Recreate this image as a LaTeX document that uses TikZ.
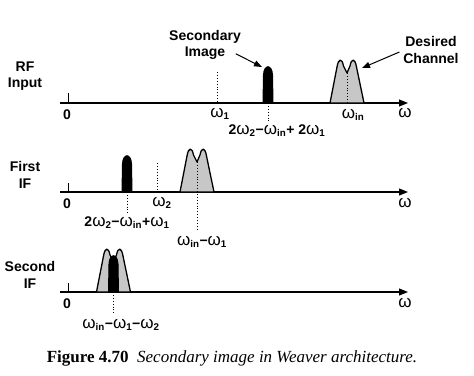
\documentclass[tikz,border=0pt]{standalone}
\usepackage{fontspec}
\setmainfont{Liberation Serif}
\setsansfont{Liberation Sans}
\usetikzlibrary{arrows.meta}
\newcommand{\om}{{\mdseries\fontsize{17}{17}\selectfont ω}}
\newcommand{\wsub}[1]{\om\textsubscript{#1}}

\tikzset{
  lbl/.style={font=\sffamily\bfseries\fontsize{14}{16.5}\selectfont, inner sep=0.75pt},
  axisline/.style={line width=1.1pt, -{Triangle[length=9pt,width=7pt]}},
  pulse/.style={fill=black, draw=black, line width=1pt},
  chan/.style={fill=black!22, draw=black, line width=1.3pt, line join=round},
  guide/.style={dotted, line width=0.9pt},
  pointer/.style={line width=1pt, -{Triangle[length=8pt,width=6pt]}}
}

\begin{document}
\begin{tikzpicture}[x=1pt,y=1pt,yscale=-1]
\useasboundingbox (0,0) rectangle (474,375);

%RF input row
\draw[axisline] (60,103) -- (408,103);
\draw[line width=1pt] (68,93) -- (68,103);
\begin{scope}[shift={(347,103)}]
\draw[chan] (-17,0) -- (-10,-36) .. controls (-8.5,-45) and (-5,-45) .. (-3.5,-37) -- (0,-30) -- (3,-37) .. controls (4.5,-45) and (8,-45) .. (9.5,-36) -- (17,0) -- cycle;
\draw[guide] (0,-30) -- (0,0);
\end{scope}
\begin{scope}[shift={(268,103)}]
\draw[pulse] (-5,0) -- (-4.5,-28) .. controls (-4,-39) and (4,-39) .. (4.5,-28) -- (5,0) -- cycle;
\draw[guide] (0,0) -- (0,20);
\end{scope}
\draw[guide] (217,72) -- (217,103);

%first IF row
\draw[axisline] (60,192) -- (408,192);
\draw[line width=1pt] (68,183) -- (68,192);
\begin{scope}[shift={(197,192)}]
\draw[chan] (-17,0) -- (-10,-36) .. controls (-8.5,-45) and (-5,-45) .. (-3.5,-37) -- (0,-30) -- (3,-37) .. controls (4.5,-45) and (8,-45) .. (9.5,-36) -- (17,0) -- cycle;
\draw[guide] (0,-30) -- (0,38);
\end{scope}
\begin{scope}[shift={(127,192)}]
\draw[pulse] (-5,0) -- (-4.5,-28) .. controls (-4,-39) and (4,-39) .. (4.5,-28) -- (5,0) -- cycle;
\draw[guide] (0,0) -- (0,21);
\end{scope}
\draw[guide] (157,163) -- (157,192);

%second IF row
\draw[axisline] (60,292) -- (408,292);
\draw[line width=1pt] (68,283) -- (68,292);
\begin{scope}[shift={(113.5,292)}]
\draw[chan] (-17,0) -- (-10,-36) .. controls (-8.5,-45) and (-5,-45) .. (-3.5,-37) -- (0,-30) -- (3,-37) .. controls (4.5,-45) and (8,-45) .. (9.5,-36) -- (17,0) -- cycle;
\draw[pulse] (-5,0) -- (-4.5,-28) .. controls (-4,-39) and (4,-39) .. (4.5,-28) -- (5,0) -- cycle;
\draw[guide] (0,0) -- (0,21);
\end{scope}

% Text Node
\node[lbl, align=center] (rfin) at (25,76) {RF\\Input};
\node[lbl, align=center] (firstif) at (25,175) {First\\IF};
\node[lbl, align=center] (secondif) at (30,275) {Second\\IF};
\node[lbl] (zeroa) at (67,115) {0};
\node[lbl] (zerob) at (67,204) {0};
\node[lbl] (zeroc) at (67,304) {0};
\node[lbl] (wa) at (405,113) {\om};
\node[lbl] (wb) at (405,203) {\om};
\node[lbl] (wc) at (405,303) {\om};
\node[lbl] (wone) at (220,114) {\wsub{1}};
\node[lbl] (wtwo) at (162,203) {\wsub{2}};
\node[lbl] (win) at (353,115) {\wsub{in}};
\node[lbl] (imgrf) at (277,131) {2\wsub{2}−\wsub{in}+ 2\wsub{1}};
\node[lbl] (imgif) at (127,223) {2\wsub{2}−\wsub{in}+\wsub{1}};
\node[lbl] (chanif) at (202,242) {\wsub{in}−\wsub{1}};
\node[lbl] (chansec) at (121,325) {\wsub{in}−\wsub{1}−\wsub{2}};
\node[lbl, align=center] (secimg) at (205,45) {Secondary\\Image};
\node[lbl, align=center] (desired) at (431,50) {Desired\\Channel};

% pointers
\coordinate (imgtip) at (262,67);
\coordinate (chantip) at (362,68);
\draw[pointer] ([shift={(-6,-7)}]secimg.south east) -- (imgtip);
\draw[pointer] ([shift={(-3,2)}]desired.west) -- (chantip);

% caption
\node[font=\fontsize{17}{19}\selectfont] (caption) at (232,358) {\textbf{Figure 4.70}\ \ \textit{Secondary image in Weaver architecture.}};
\end{tikzpicture}
\end{document}
